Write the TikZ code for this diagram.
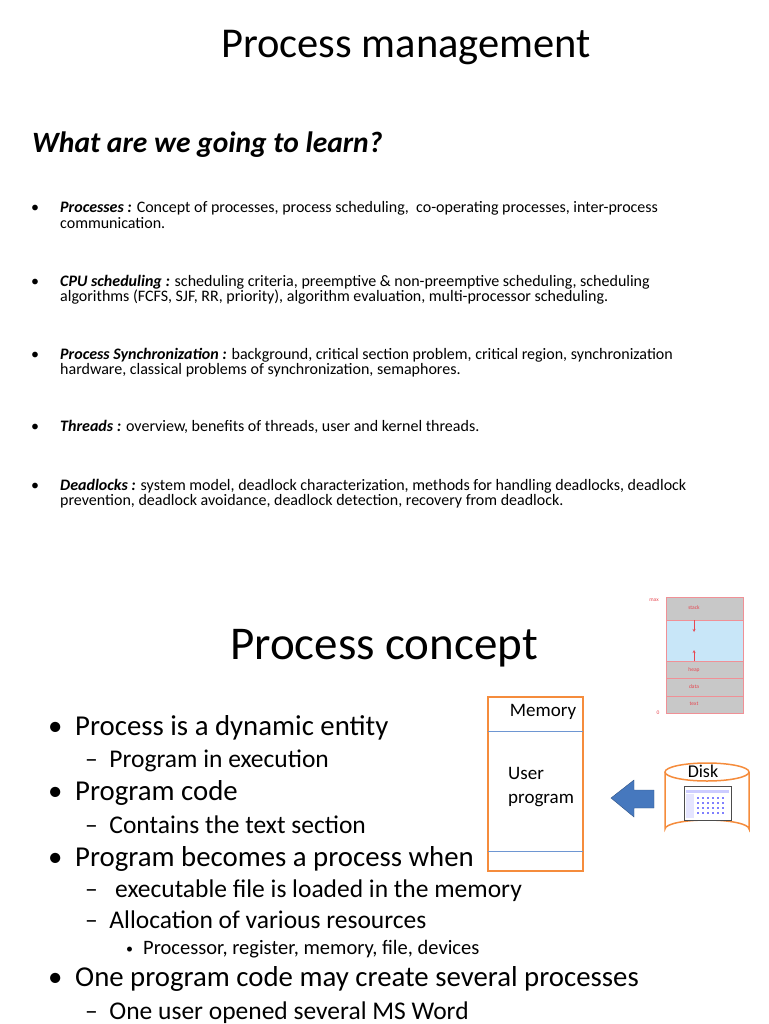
\documentclass[tikz,border=0pt]{standalone}
\usepackage{fontspec}
\setmainfont{Carlito}
\usetikzlibrary{shapes.geometric}
\definecolor{org}{RGB}{245,140,60}
\definecolor{lblue}{RGB}{110,150,210}
\definecolor{arr}{RGB}{70,120,190}
\definecolor{stk}{RGB}{200,200,200}
\definecolor{sky}{RGB}{200,230,248}
\definecolor{rd}{RGB}{230,70,80}
\tikzset{
 sm/.style={anchor=base west,inner sep=0,font=\fontsize{16}{18}\selectfont},
 big/.style={anchor=base west,inner sep=0,font=\fontsize{28.8}{32}\selectfont},
 sub/.style={anchor=base west,inner sep=0,font=\fontsize{25.5}{28}\selectfont},
 ssub/.style={anchor=base west,inner sep=0,font=\fontsize{20.5}{23}\selectfont},
 lab/.style={inner sep=0,font=\fontsize{5.5}{6}\selectfont,text=rd},
}
\begin{document}
\begin{tikzpicture}[x=1pt,y=-1pt]
\useasboundingbox (0,0) rectangle (768,1024);
\node[inner sep=0,font=\fontsize{42.5}{46}\selectfont] (t1) at (406,48) {Process management};
\node[anchor=base west,inner sep=0,font=\fontsize{29.5}{32}\selectfont\bfseries\itshape] (w) at (32,153) {What are we going to learn?};
\foreach \y in {213,286,359,431,490} \node[sm] at (31,\y) {•};
\node[sm] (a1) at (60,213) {\textbf{\textit{Processes :}} Concept of processes, process scheduling,\ \ co-operating processes, inter-process};
\node[sm] (a2) at (60,229) {communication.};
\node[sm] (b1) at (60,286) {\textbf{\textit{CPU scheduling :}} scheduling criteria, preemptive \& non-preemptive scheduling, scheduling};
\node[sm] (b2) at (60,301) {algorithms (FCFS, SJF, RR, priority), algorithm evaluation, multi-processor scheduling.};
\node[sm] (c1) at (60,359) {\textbf{\textit{Process Synchronization :}} background, critical section problem, critical region, synchronization};
\node[sm] (c2) at (60,374) {hardware, classical problems of synchronization, semaphores.};
\node[sm] (d1) at (60,431) {\textbf{\textit{Threads :}} overview, benefits of threads, user and kernel threads.};
\node[sm] (e1) at (60,490) {\textbf{\textit{Deadlocks :}} system model, deadlock characterization, methods for handling deadlocks, deadlock};
\node[sm] (e2) at (60,505) {prevention, deadlock avoidance, deadlock detection, recovery from deadlock.};
\node[inner sep=0,font=\fontsize{47}{50}\selectfont] (t2) at (384,648) {Process concept};
\foreach \y in {735,800,866,986} \node[big] at (48,\y) {•};
\node[big] (p1) at (75,735) {Process is a dynamic entity};
\node[sub] (p1a) at (85,767) {–\ \ Program in execution};
\node[big] (p2) at (75,800) {Program code};
\node[sub] (p2a) at (85,833) {–\ \ Contains the text section};
\node[big] (p3) at (75,866) {Program becomes a process when};
\node[sub] (p3a) at (85,897) {–\ \ \ executable file is loaded in the memory};
\node[sub] (p3b) at (85,928) {–\ \ Allocation of various resources};
\node[ssub] at (126,953) {\fontsize{14}{16}\selectfont•};
\node[ssub] (p3c) at (143,954) {Processor, register, memory, file, devices};
\node[big] (p4) at (75,986) {One program code may create several processes};
\node[sub] (p4a) at (85,1019) {–\ \ One user opened several MS Word};
% memory
\draw[org,line width=1.5] (488,697) rectangle (583,871);
\draw[lblue] (488,731) -- (583,731) (488,851) -- (583,851);
\node[inner sep=0,font=\fontsize{19}{22}\selectfont] (mem) at (543,712) {Memory};
\node[anchor=north west,inner sep=0,align=left,font=\fontsize{19}{24}\selectfont] (up) at (508,767) {User\\program};
\draw[fill=arr,draw=arr!70!black] (611,798) -- (634,780) -- (634,790) -- (654,790) -- (654,808) -- (634,808) -- (634,817) -- cycle;
% disk
\draw[org,line width=1.5,fill=white] (665,772) -- (665,829) arc[start angle=180,end angle=360,x radius=42,y radius=9] -- (749,772);
\draw[org,line width=1.5] (707,772) ellipse[x radius=42,y radius=9];
\node[inner sep=0,font=\fontsize{18}{20}\selectfont] (disk) at (703,771) {Disk};
\draw[fill=white,draw=black!70] (684,786) rectangle (731,820);
\fill[blue!20] (686,790) rectangle (729,793);
\fill[blue!10] (686,794) rectangle (694,818);
\foreach \i in {0,...,5} \foreach \j in {0,...,3} \fill[blue!50] (697+5*\i,797+5*\j) rectangle ++(2,2);
% stack
\fill[stk] (666,597) rectangle (743,620);
\fill[sky] (666,620) rectangle (743,661);
\fill[stk] (666,661) rectangle (743,713);
\draw[rd!60] (666,597) rectangle (743,713);
\foreach \y in {620,661,678,696} \draw[rd!60] (666,\y) -- (743,\y);
\node[lab] (s1) at (694,608) {stack};
\node[lab] (s2) at (694,670) {heap};
\node[lab] (s3) at (694,687) {data};
\node[lab] (s4) at (694,704) {text};
\node[lab] (mx) at (654,600) {max};
\node[lab] (z) at (658,713) {0};
\draw[rd,->,>=stealth,line width=0.4] (694,620) -- (694,632);
\draw[rd,->,>=stealth,line width=0.4] (694,661) -- (694,650);
\end{tikzpicture}
\end{document}
